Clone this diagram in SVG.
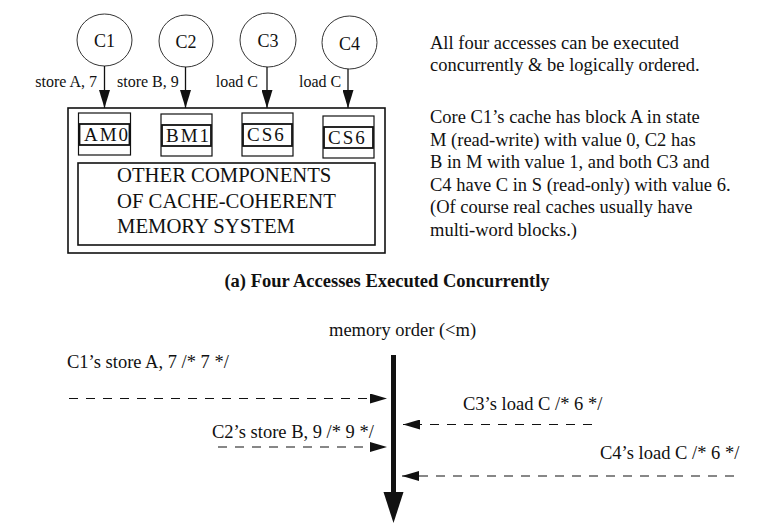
<svg xmlns="http://www.w3.org/2000/svg" width="776" height="529" viewBox="0 0 776 529">
<defs>
<style>
text{font-family:"Liberation Serif","Times New Roman",serif;fill:#111}
.core{fill:#fff;stroke:#333;stroke-width:1}
.box{fill:none;stroke:#111;stroke-width:1.6}
.cell{fill:#fff;stroke:#111;stroke-width:1.2}
.tag{fill:none;stroke:#111;stroke-width:1.8}
.edge{stroke:#111;stroke-width:1.3;fill:none}
.dash{stroke:#111;stroke-width:1.2;fill:none;stroke-dasharray:9 8}
.lbl{font-size:16px}
.ct{font-size:18px;text-anchor:middle}
.cache{font-size:19px;letter-spacing:2px}
.big{font-size:20.7px}
.desc{font-size:18.5px}
</style>
<marker id="ah" markerWidth="18" markerHeight="11" refX="18" refY="5.5" orient="auto" markerUnits="userSpaceOnUse" viewBox="0 0 18 11">
<path d="M0,0 L18,5.5 L0,11 Z" fill="#111"/>
</marker>
<marker id="dh" markerWidth="17" markerHeight="10" refX="17" refY="5" orient="auto" markerUnits="userSpaceOnUse" viewBox="0 0 17 10">
<path d="M0,0 L17,5 L0,10 Z" fill="#111"/>
</marker>
</defs>
<rect width="776" height="529" fill="#fff"/>

<g id="memsys">
<rect class="box" x="68" y="108" width="317" height="145"/>
<rect class="box" x="78" y="163" width="297" height="82"/>
<text class="big" x="117" y="182">OTHER COMPONENTS</text>
<text class="big" x="117" y="207.5">OF CACHE-COHERENT</text>
<text class="big" x="117" y="233">MEMORY SYSTEM</text>
</g>

<g id="cache1">
<rect class="cell" x="78.5" y="113" width="52" height="42"/>
<rect class="tag" x="79.5" y="124" width="50" height="21"/>
<text class="cache" x="84" y="141">AM0</text>
</g>
<g id="cache2">
<rect class="cell" x="161" y="114" width="51" height="42"/>
<rect class="tag" x="162" y="125" width="49" height="21"/>
<text class="cache" x="166" y="142">BM1</text>
</g>
<g id="cache3">
<rect class="cell" x="242" y="113" width="51" height="43"/>
<rect class="tag" x="243" y="124" width="49" height="22"/>
<text class="cache" x="247" y="141">CS6</text>
</g>
<g id="cache4">
<rect class="cell" x="323" y="116" width="51" height="42"/>
<rect class="tag" x="324" y="127" width="49" height="21"/>
<text class="cache" x="328" y="144">CS6</text>
</g>

<g id="c1"><ellipse class="core" cx="104.5" cy="40" rx="27.5" ry="26"/><text class="ct" x="104.5" y="47">C1</text></g>
<g id="c2"><ellipse class="core" cx="186" cy="41" rx="27" ry="26"/><text class="ct" x="186" y="48">C2</text></g>
<g id="c3"><ellipse class="core" cx="268" cy="40" rx="28" ry="27"/><text class="ct" x="268" y="47">C3</text></g>
<g id="c4"><ellipse class="core" cx="349.5" cy="42.5" rx="27.5" ry="26.5"/><text class="ct" x="349.5" y="49.5">C4</text></g>

<g id="connectors">
<line class="edge" x1="104.5" y1="66" x2="104.5" y2="108" marker-end="url(#ah)"/>
<line class="edge" x1="185.5" y1="67" x2="185.5" y2="108" marker-end="url(#ah)"/>
<line class="edge" x1="267" y1="67" x2="267" y2="108" marker-end="url(#ah)"/>
<line class="edge" x1="348" y1="69" x2="348" y2="108" marker-end="url(#ah)"/>
<text class="lbl" x="97" y="87" text-anchor="end">store A, 7</text>
<text class="lbl" x="117" y="87">store B, 9</text>
<text class="lbl" x="258" y="87" text-anchor="end">load C</text>
<text class="lbl" x="299" y="87">load C</text>

<line x1="393.5" y1="355" x2="393.5" y2="495" stroke="#111" stroke-width="5"/>
<path d="M383.5,492 L403.5,492 L393.5,523 Z" fill="#111"/>
<line class="dash" x1="69" y1="398.5" x2="387" y2="398.5" marker-end="url(#dh)"/>
<line class="dash" x1="218" y1="447" x2="387" y2="447" marker-end="url(#dh)"/>
<line class="dash" x1="592" y1="424.5" x2="403" y2="424.5" marker-end="url(#dh)"/>
<line class="dash" x1="734" y1="476" x2="402" y2="476" marker-end="url(#dh)"/>
</g>

<g id="desc">
<text class="desc" x="430" y="48.5">All four accesses can be executed</text>
<text class="desc" x="430" y="71">concurrently &amp; be logically ordered.</text>
<text class="desc" x="430" y="123">Core C1’s cache has block A in state</text>
<text class="desc" x="430" y="145.5">M (read-write) with value 0, C2 has</text>
<text class="desc" x="430" y="168">B in M with value 1, and both C3 and</text>
<text class="desc" x="430" y="190.5">C4 have C in S (read-only) with value 6.</text>
<text class="desc" x="430" y="213">(Of course real caches usually have</text>
<text class="desc" x="430" y="235.5">multi-word blocks.)</text>
</g>

<text x="387" y="287" text-anchor="middle" style="font-size:18.5px;font-weight:bold">(a) Four Accesses Executed Concurrently</text>

<g id="order">
<text class="desc" x="329" y="336">memory order (&lt;m)</text>
<text class="desc" x="67" y="368">C1’s store A, 7 /* 7 */</text>
<text class="desc" x="212" y="438">C2’s store B, 9 /* 9 */</text>
<text class="desc" x="463" y="410">C3’s load C /* 6 */</text>
<text class="desc" x="600" y="459">C4’s load C /* 6 */</text>
</g>
</svg>
